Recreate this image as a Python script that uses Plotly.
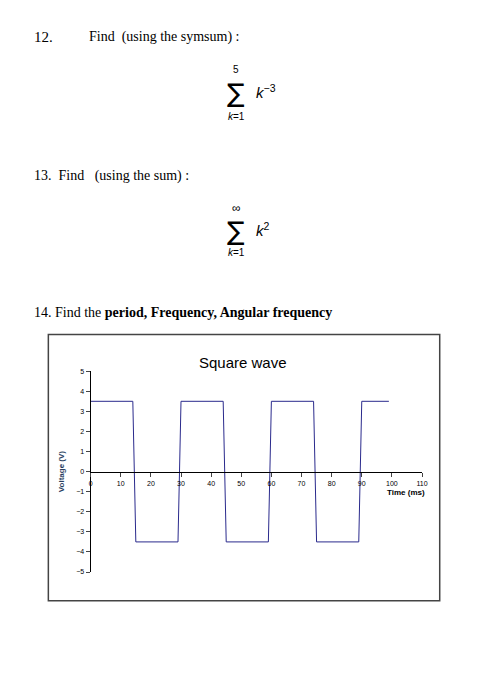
import plotly.graph_objects as go

W, H = 480, 665
OFF = 8
time_ms = [0, 14, 15, 29, 30, 44, 45, 59, 60, 74, 75, 89, 90, 99]
voltage = [3.5, 3.5, -3.5, -3.5, 3.5, 3.5, -3.5, -3.5, 3.5, 3.5, -3.5, -3.5, 3.5, 3.5]
x_ticks = [0, 10, 20, 30, 40, 50, 60, 70, 80, 90, 100, 110]
y_ticks = [-5, -4, -3, -2, -1, 0, 1, 2, 3, 4, 5]

def px(x): return (x - OFF) / W
def py(y): return 1 - (y - OFF) / H

fig = go.Figure(go.Scatter(x=time_ms, y=voltage, mode="lines",
                           line=dict(color="#2a2a8c", width=1), showlegend=False))

serif = "Liberation Serif"
sans = "Liberation Sans"
ann = []
def t(x, y, s, size=14, font=serif, xa="left", color="black"):
    ann.append(dict(x=px(x), y=py(y), xref="paper", yref="paper", text=s, showarrow=False,
                    xanchor=xa, yanchor="middle", font=dict(family=font, size=size, color=color)))

t(30, 33, "12.", 15)
t(86, 33, "Find  (using the symsum) :", 14)
t(30, 174, "13.  Find   (using the sum) :", 14)
t(30, 312, "14. Find the <b>period, Frequency, Angular frequency</b>", 14)
# sum 1
t(238, 66, "5", 10, sans, "center")
t(238, 90, "∑", 26, "DejaVu Sans", "center")
t(238, 114, "<i>k</i>=1", 10, sans, "center")
t(256, 88, "<i>k</i><sup>−3</sup>", 15, sans)
# sum 2
t(238, 206, "∞", 12, sans, "center")
t(238, 229, "∑", 26, "DejaVu Sans", "center")
t(238, 251, "<i>k</i>=1", 10, sans, "center")
t(256, 228, "<i>k</i><sup>2</sup>", 15, sans)
# chart texts
t(245, 362, "Square wave", 15, sans, "center")
t(411, 494, "<b>Time (ms)</b>", 8, sans, "center")

fig.update_layout(
    width=W, height=H, margin=dict(l=0, r=0, t=0, b=0),
    paper_bgcolor="white", plot_bgcolor="white",
    annotations=ann,
    shapes=[dict(type="rect", xref="paper", yref="paper", x0=px(47), x1=px(445),
                 y0=py(603), y1=py(334), line=dict(color="#444", width=1.5))],
    xaxis=dict(domain=[px(90), px(427)], range=[0, 110], anchor="free", position=py(473),
               tickvals=x_ticks, ticks="outside", ticklen=4, showgrid=False, zeroline=False,
               showline=True, linecolor="black", linewidth=1,
               tickfont=dict(family=sans, size=7, color="black")),
    yaxis=dict(domain=[py(574), py(371)], range=[-5, 5], tickvals=y_ticks,
               ticks="outside", ticklen=4, showgrid=False, zeroline=False,
               showline=True, linecolor="black", linewidth=1,
               tickfont=dict(family=sans, size=7, color="black"),
               title=dict(text="<b>Voltage (V)</b>", font=dict(family=sans, size=8), standoff=10)),
)
fig.write_html("out.html")
